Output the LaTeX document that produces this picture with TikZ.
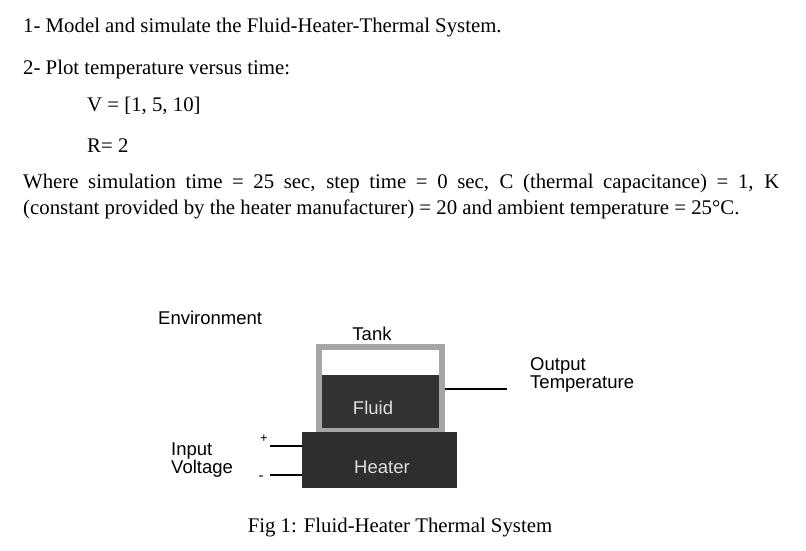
\documentclass[tikz,border=0pt]{standalone}
\usepackage{fontspec}
\setmainfont{Liberation Serif}
\newfontfamily\sanf{Liberation Sans}
\begin{document}
\begin{tikzpicture}[x=1pt,y=-1pt,
  txt/.style={anchor=base west,inner sep=0pt,font=\fontsize{20.8}{24}\selectfont},
  lab/.style={inner sep=0pt,font=\sanf\fontsize{18.5}{18}\selectfont,align=left},
  wire/.style={line width=2pt,black}]
\useasboundingbox (0,0) rectangle (806,550);
\fill[white] (0,0) rectangle (806,550);
\node[txt] (t1) at (23,32) {1- Model and simulate the Fluid-Heater-Thermal System.};
\node[txt] (t2) at (23,74) {2- Plot temperature versus time:};
\node[txt] (t3) at (87,111) {V = [1, 5, 10]};
\node[txt] (t4) at (87,152) {R= 2};
\node[anchor=north west,inner sep=0pt,text width=756pt,align=justify,font=\fontsize{20.8}{26}\selectfont] (t5) at (23,174)
 {Where simulation time = 25 sec, step time = 0 sec, C (thermal capacitance) = 1, K\linebreak (constant provided by the heater manufacturer) = 20 and ambient temperature = 25\textdegree C.};
% tank
\fill[gray!70] (316,344) rectangle (445,432);
\fill[white] (322,350) rectangle (439,375);
\fill[black!80] (322,375) rectangle (439,428);
\node[lab,text=gray!25] (fl) at (373,408) {Fluid};
\node[lab] (tk) at (372,334) {Tank};
% heater
\fill[black!82] (302,432) rectangle (457,488);
\node[lab,text=gray!25] (ht) at (382,467) {Heater};
\coordinate (op) at (507,389);
\draw[wire] (445,389) -- (op);
\coordinate (ip) at (270,446);
\coordinate (im) at (270,475);
\draw[wire] (ip) -- (302,446);
\draw[wire] (im) -- (302,475);
\node[inner sep=0pt,font=\sanf\fontsize{13}{13}\selectfont] (pl) at (264,439) {+};
\node[inner sep=0pt,font=\sanf\fontsize{15}{15}\selectfont] (mi) at (261,478) {-};
\node[lab,anchor=west] (env) at (158,318) {Environment};
\node[lab,anchor=west,font=\sanf\fontsize{18.5}{15}\selectfont] (ot) at (530,375) {Output\\Temperature};
\node[lab,anchor=west,font=\sanf\fontsize{18.5}{15}\selectfont] (iv) at (171,460) {Input\\Voltage};
\node[txt,anchor=base] (cap) at (400,532) {Fig 1: Fluid-Heater Thermal System};
\end{tikzpicture}
\end{document}
